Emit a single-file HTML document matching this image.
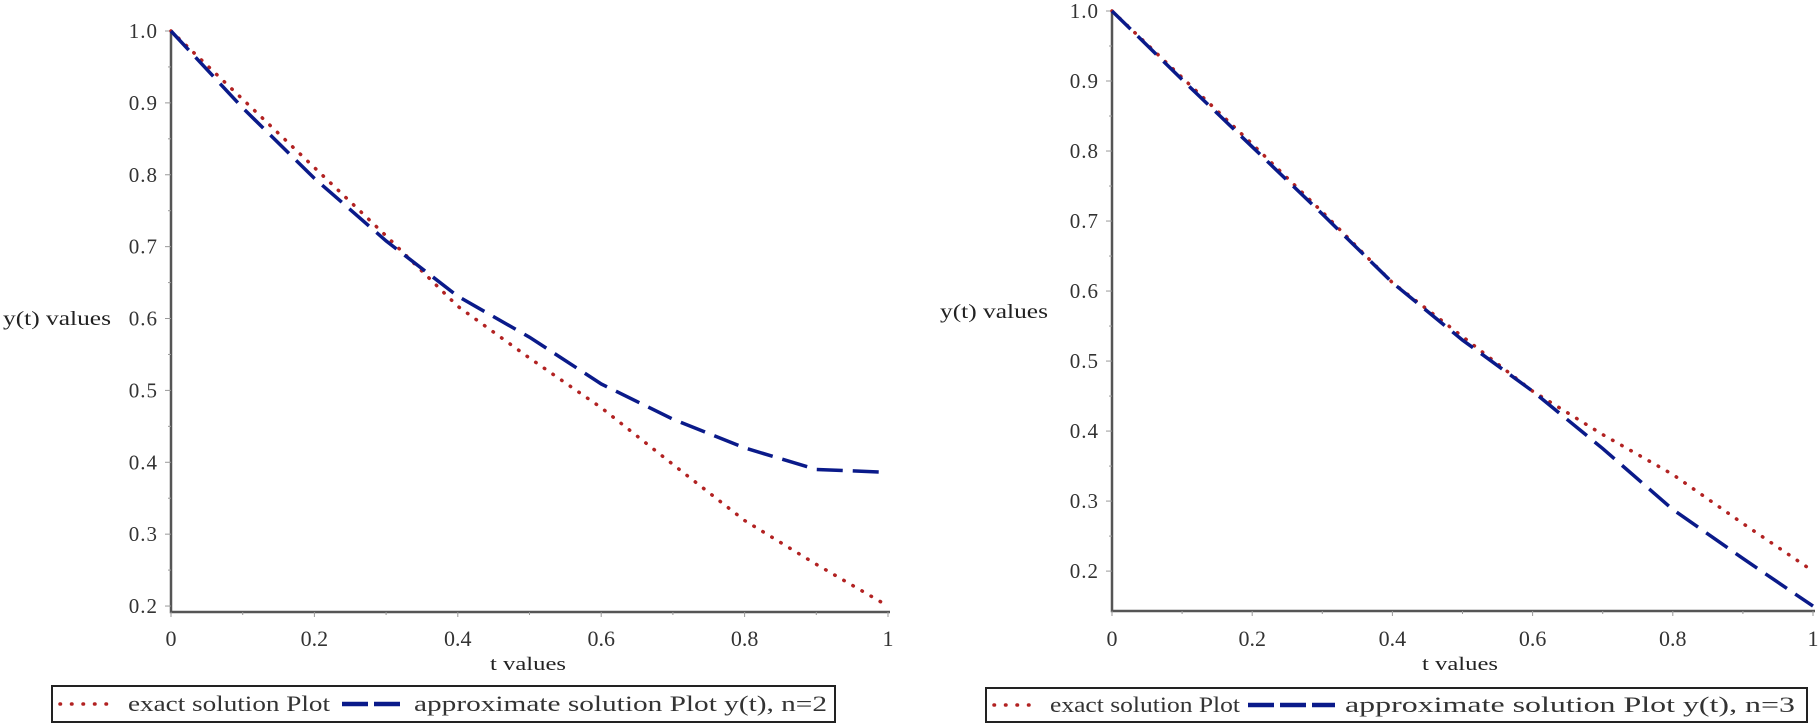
<!DOCTYPE html>
<html><head><meta charset="utf-8"><style>
body{margin:0;background:#fff;width:1820px;height:727px;overflow:hidden;font-family:"Liberation Serif",serif;}
svg{position:absolute;left:0;top:0}
</style></head><body>
<svg id="chart" width="1820" height="727" xmlns="http://www.w3.org/2000/svg"></svg>
<script>
const tValues=[0,0.1,0.2,0.3,0.4,0.5,0.6,0.7,0.8,0.9,1.0];
const exactLeft=[1,0.905,0.81,0.715,0.617,0.545,0.476,0.397,0.319,0.258,0.2];
const approxLeft=[1,0.893,0.795,0.708,0.631,0.574,0.509,0.46,0.42,0.39,0.386];
const exactRight=[1,0.905,0.81,0.713,0.612,0.535,0.457,0.395,0.338,0.268,0.2];
const approxRight=[1,0.902,0.806,0.71,0.612,0.53,0.457,0.375,0.288,0.218,0.15];
const xTickLabels=["0","0.2","0.4","0.6","0.8","1"];
const yTickLabels=["0.2","0.3","0.4","0.5","0.6","0.7","0.8","0.9","1.0"];
const legendLabelsLeft=["exact solution Plot","approximate solution Plot y(t), n=2"];
const legendLabelsRight=["exact solution Plot","approximate solution Plot  y(t), n=3"];

const NS="http://www.w3.org/2000/svg";
const svg=document.getElementById('chart');
function mk(tag,attrs,parent,text){const e=document.createElementNS(NS,tag);for(const k in attrs)e.setAttribute(k,attrs[k]);if(text!==undefined)e.textContent=text;(parent||svg).appendChild(e);return e;}

function panel(cfg){
  const g=mk('g',{});
  
  
  const sx=t=>cfg.x0+t*(cfg.x1-cfg.x0);
  const sy=v=>cfg.y0-(v-cfg.ymin)/(1-cfg.ymin)*(cfg.y0-cfg.y1);
  const ax=mk('path',{d:`M${cfg.x0},${cfg.y1} V${cfg.y0} H${cfg.x1+2}`,stroke:'#555',fill:'none','stroke-width':2.5},g);
  
  
  for(let i=0;i<=10;i++){
    const x=sx(i/10);
    mk('line',{x1:x,x2:x,y1:cfg.y0,y2:cfg.y0+(i%2?3:5),stroke:'#999','stroke-width':1},g);
  }
  xTickLabels.forEach((l,i)=>{
    const tl=mk('text',{x:sx(i*0.2),y:646,'text-anchor':'middle','font-size':22,fill:'#333'},g,l);
    
    
  });
  for(let k=4;k<=20;k++){
    const v=k*0.05,y=sy(v);
    mk('line',{x1:cfg.x0-(k%2?3:6),x2:cfg.x0,y1:y,y2:y,stroke:'#999','stroke-width':1},g);
  }
  yTickLabels.forEach(l=>{
    const tl=mk('text',{x:cfg.x0-13,y:sy(parseFloat(l))+7,'text-anchor':'end','font-size':21,'letter-spacing':1,fill:'#333'},g,l);
    
    
  });
  const xt=mk('text',{x:cfg.xTitleX,y:670,'text-anchor':'middle','font-size':19,fill:'#222',textLength:76,lengthAdjust:'spacingAndGlyphs'},g,'t values');
  
  
  const yt=mk('text',{x:cfg.yTitleX,y:cfg.yTitleY,'font-size':20,fill:'#222','xml:space':'preserve',textLength:108,lengthAdjust:'spacingAndGlyphs'},g,'y(t)  values');
  
  
  const pts=a=>a.map((v,i)=>`${sx(tValues[i])},${sy(v)}`).join(' ');
  const ex=mk('polyline',{points:pts(cfg.exact),fill:'none',stroke:'#b22222','stroke-width':3.5,'stroke-dasharray':'0.5 10','stroke-linecap':'round'},g);
  
  
  const ap=mk('polyline',{points:pts(cfg.approx),fill:'none',stroke:'#0a1a8a','stroke-width':3.5,'stroke-dasharray':'26 10'},g);
  
  
  const lg=mk('g',{},g);
  
  
  const L=cfg.leg;
  mk('rect',{x:L.x,y:L.y,width:L.w,height:L.h,fill:'#fff',stroke:'#222','stroke-width':2},lg);
  const my=L.y+L.h/2;
  mk('line',{x1:L.d1[0],x2:L.d1[1],y1:my,y2:my,stroke:'#b22222','stroke-width':3.5,'stroke-dasharray':'0.5 11','stroke-linecap':'round'},lg);
  const t1=mk('text',{x:L.t1[0],y:my+7,'font-size':22,fill:'#333',textLength:L.t1[1]-L.t1[0],lengthAdjust:'spacingAndGlyphs'},lg,cfg.labels[0]);
  
  
  mk('line',{x1:L.d2[0],x2:L.d2[1],y1:my,y2:my,stroke:'#0a1a8a','stroke-width':4.5,'stroke-dasharray':'26 6'},lg);
  const t2=mk('text',{x:L.t2[0],y:my+7,'font-size':22,fill:'#333','xml:space':'preserve',textLength:L.t2[1]-L.t2[0],lengthAdjust:'spacingAndGlyphs'},lg,cfg.labels[1]);
  
  
}
panel({name:'left-chart',x0:171,x1:888,y0:612,y1:31,ymin:0.1917,exact:exactLeft,approx:approxLeft,xTitleX:528,yTitleX:3,yTitleY:325,
  leg:{x:52,y:686,w:783,h:36,d1:[60,116],t1:[128,330],d2:[342,404],t2:[414,827]},labels:legendLabelsLeft});
panel({name:'right-chart',x0:1112,x1:1813,y0:611,y1:11,ymin:0.143,exact:exactRight,approx:approxRight,xTitleX:1460,yTitleX:940,yTitleY:318,
  leg:{x:986,y:688,w:821,h:34,d1:[994,1040],t1:[1050,1240],d2:[1248,1335],t2:[1345,1795]},labels:legendLabelsRight});
</script>
</body></html>
